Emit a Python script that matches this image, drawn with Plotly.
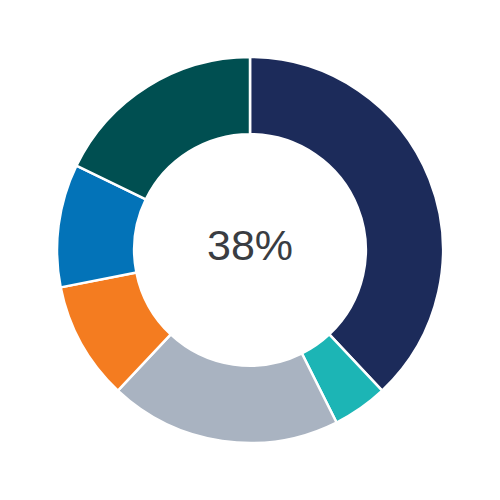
import plotly.graph_objects as go

labels = ["A", "B", "C", "D", "E", "F"]
values = [38, 4.6, 19.4, 9.9, 10.3, 17.8]
colors = ["#1c2b5a", "#1cb5b5", "#a9b3c1", "#f47c20", "#0373b8", "#004f51"]
center_text = "38%"

fig = go.Figure(data=[go.Pie(labels=labels, values=values, hole=0.6,
                             sort=False, direction="clockwise", rotation=0,
                             textinfo="none", hoverinfo="label+percent",
                             marker=dict(colors=colors, line=dict(color="white", width=2.5)))])
# page body has an 8px margin, so shift the plot area up/left to centre it
fig.update_layout(
    width=500, height=500, showlegend=False,
    margin=dict(l=49, r=65, t=49, b=65),
    paper_bgcolor="white",
    annotations=[dict(text=center_text, x=0.5, y=0.5, showarrow=False, yshift=5,
                      font=dict(family="Liberation Sans, Arial", size=43, color="#3a3d42"))])
fig.write_html("out.html")
